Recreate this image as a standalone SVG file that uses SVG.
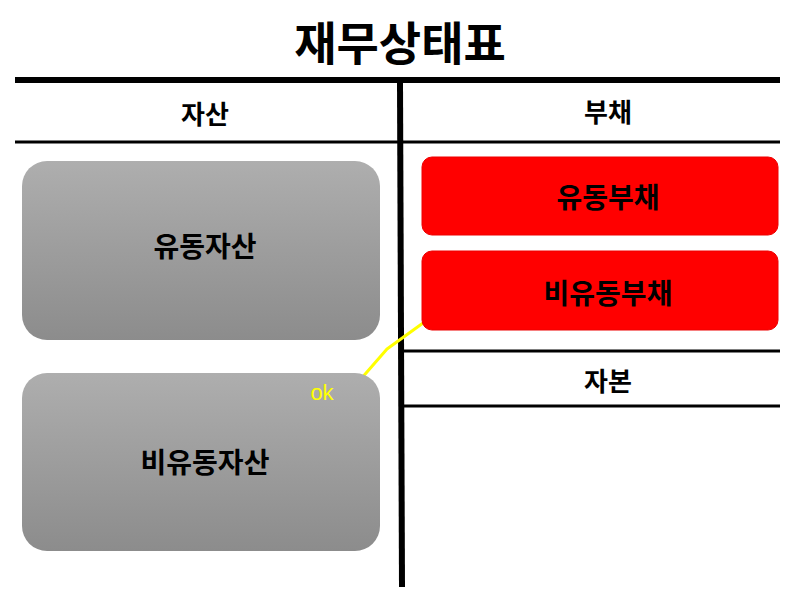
<svg xmlns="http://www.w3.org/2000/svg" width="800" height="597" viewBox="0 0 800 597">
<style>
text{font-family:"Noto Sans CJK KR","Noto Sans",sans-serif;font-weight:bold;fill:#000;text-anchor:middle;dominant-baseline:central}
.h{font-size:26px}.n{font-size:28px}
.g{fill:url(#gr)}.r{fill:#ff0000;stroke:#e00;stroke-width:1}
.ln{stroke:#000;fill:none}
.y{stroke:#ffff00;stroke-width:3;fill:none;stroke-linecap:round;stroke-linejoin:round}
</style>
<defs><linearGradient id="gr" x1="0" y1="0" x2="0" y2="1"><stop offset="0" stop-color="#aeaeae"/><stop offset="1" stop-color="#8c8c8c"/></linearGradient></defs>
<rect width="800" height="597" fill="#fff"/>
<text x="400" y="40" style="font-size:46px">재무상태표</text>
<g id="connectors">
<line class="ln" x1="15" y1="80" x2="780" y2="80" stroke-width="6"/>
<line class="ln" x1="15" y1="142" x2="780" y2="142" stroke-width="3"/>
<line class="ln" x1="400" y1="83" x2="402" y2="587" stroke-width="6"/>
<line class="ln" x1="403" y1="351" x2="780" y2="351" stroke-width="3"/>
<line class="ln" x1="403" y1="406" x2="780" y2="406" stroke-width="3"/>
<path class="y" d="M464,298 L430,318 L387,349 L360,380 L340,405 L312,442 M315,420 L301,448 L333,450"/>
</g>
<text class="h" x="205" y="112">자산</text>
<text class="h" x="608" y="110">부채</text>
<text class="h" x="608" y="379">자본</text>
<g id="n1"><rect class="g" x="22" y="161" width="358" height="179" rx="25"/><text class="n" x="205" y="245">유동자산</text></g>
<g id="n2"><rect class="g" x="22" y="373" width="358" height="178" rx="25"/><text class="n" x="205" y="461">비유동자산</text></g>
<g id="n3"><rect class="r" x="422" y="157" width="356" height="78" rx="10"/><text class="n" x="608" y="196">유동부채</text></g>
<g id="n4"><rect class="r" x="422" y="251" width="356" height="79" rx="10"/><text class="n" x="608" y="292">비유동부채</text></g>
<text x="322" y="392" style="font-size:22px;font-weight:normal;fill:#ffff00;font-family:'Liberation Sans',sans-serif">ok</text>
</svg>
